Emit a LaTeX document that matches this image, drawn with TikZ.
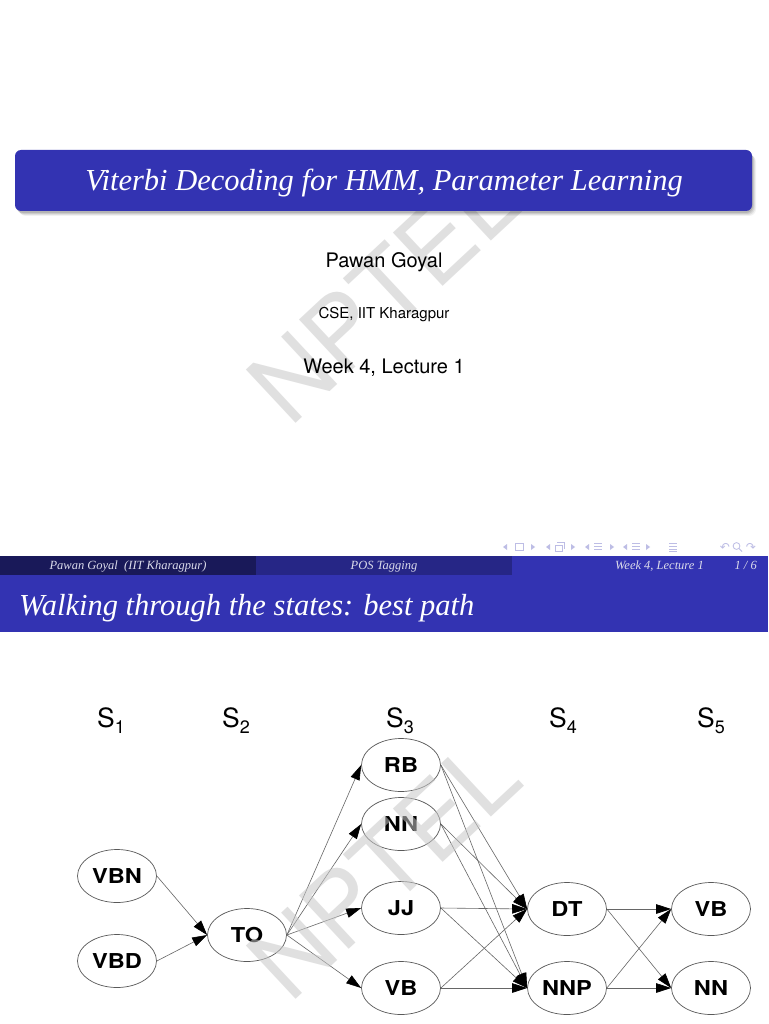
\documentclass[tikz,border=0pt]{standalone}
\usepackage{fontspec}
\setmainfont{Liberation Serif}
\setsansfont{TeX Gyre Heros}
\newfontfamily\dejavu{DejaVu Sans}
\usetikzlibrary{arrows.meta,shapes.geometric}
\definecolor{struct}{rgb}{0.2,0.2,0.7}
\definecolor{navlite}{rgb}{0.74,0.74,0.90}
\definecolor{foottxt}{rgb}{0.86,0.86,0.92}
\newcommand\stlab[1]{\scalebox{1.15}[1]{#1}}
\newcommand\slabtext[1]{S\raisebox{-6pt}{\fontsize{18}{18}\selectfont #1}}
\begin{document}
\begin{tikzpicture}[x=1pt,y=-1pt,
  st/.style={ellipse,draw=black!65,line width=0.7pt,minimum width=79pt,minimum height=53pt,inner sep=0pt,
    font=\sffamily\bfseries\fontsize{20.5}{20.5}\selectfont},
  ed/.style={draw=black!60,line width=0.6pt,-{Triangle[length=15pt,width=9.5pt,color=black]}},
  slab/.style={font=\sffamily\fontsize{26.5}{26.5}\selectfont,anchor=base west,inner sep=0pt},
  foot/.style={font=\itshape\fontsize{12.5}{12.5}\selectfont,text=foottxt,inner sep=0pt,anchor=base},
  wm/.style={font=\sffamily\fontsize{100}{100}\selectfont,text=black!22,opacity=0.55,rotate=43},
  nav/.style={fill=navlite,draw=none},
  navl/.style={draw=navlite,line width=0.8pt}
]
\useasboundingbox (0,0) rectangle (768,1024);
\fill[white] (0,0) rectangle (768,1024);

% ---------- slide 1 ----------
\node[wm] (wm1) at (383,292) {NPTEL};
% title box shadow
\foreach \i/\o in {4/0.05,3/0.07,2/0.09,1/0.11}{
  \fill[black,opacity=\o,rounded corners=7pt] (15+\i,150+\i+1) rectangle (752+\i,211+\i+1);
}
\fill[struct,rounded corners=6pt] (15,150) rectangle (752,211);
\node[font=\itshape\fontsize{30.5}{30.5}\selectfont,text=white,anchor=base] (title) at (384,191) {Viterbi Decoding for HMM, Parameter Learning};
\node[font=\sffamily\fontsize{20}{20}\selectfont,anchor=base] (author) at (384,267) {Pawan Goyal};
\node[font=\sffamily\fontsize{15}{15}\selectfont,anchor=base] (inst) at (384,318) {CSE, IIT Kharagpur};
\node[font=\sffamily\fontsize{20}{20}\selectfont,anchor=base] (date) at (384,373) {Week 4, Lecture 1};

% navigation symbols
\fill[nav] (507,544) -- (503,547) -- (507,550) -- cycle;
\draw[navl] (515,543.5) rectangle (523,550.5);
\fill[nav] (531,544) -- (535,547) -- (531,550) -- cycle;
\fill[nav] (550,544) -- (546,547) -- (550,550) -- cycle;
\draw[navl] (555,545) rectangle (562,551);
\draw[navl] (557,542.5) -- (564,542.5) -- (564,548.5);
\fill[nav] (571,544) -- (575,547) -- (571,550) -- cycle;
\fill[nav] (589,544) -- (585,547) -- (589,550) -- cycle;
\foreach \yy in {543.5,546.5,549.5}{\draw[navl] (594,\yy) -- (602,\yy);}
\fill[nav] (610,544) -- (614,547) -- (610,550) -- cycle;
\fill[nav] (627,544) -- (623,547) -- (627,550) -- cycle;
\foreach \yy in {543.5,546.5,549.5}{\draw[navl] (632,\yy) -- (640,\yy);}
\fill[nav] (646,544) -- (650,547) -- (646,550) -- cycle;
\foreach \yy in {543,546,549,551.5}{\draw[navl] (669,\yy) -- (677,\yy);}
\node[font=\dejavu\fontsize{12}{12}\selectfont,text=navlite,inner sep=0pt] (undo) at (725,547) {↶};
\draw[navl] (736.5,546) circle (3.4pt);
\draw[navl] (739,548.5) -- (742,551.5);
\node[font=\dejavu\fontsize{12}{12}\selectfont,text=navlite,inner sep=0pt] (redo) at (751,547) {↷};

% footline
\fill[struct!50!black] (0,556) rectangle (256,575);
\fill[struct!75!black] (256,556) rectangle (512,575);
\fill[struct] (512,556) rectangle (768,575);
\node[foot] (fauthor) at (128,569) {Pawan Goyal\ \ (IIT Kharagpur)};
\node[foot] (ftitle) at (384,569) {POS Tagging};
\node[foot,anchor=base east] (fdate) at (704,569) {Week 4, Lecture 1};
\node[foot,anchor=base east] (fpage) at (757,569) {1 / 6};

% ---------- slide 2 ----------
\fill[struct] (0,575) rectangle (768,632);
\node[font=\itshape\fontsize{30.5}{30.5}\selectfont,text=white,anchor=base west,inner sep=0pt] (ftitle2) at (19,615) {Walking through the states: best path};

% stage labels
\node[slab] (s1) at (97,727) {\slabtext{1}};
\node[slab] (s2) at (222,727) {\slabtext{2}};
\node[slab] (s3) at (386,727) {\slabtext{3}};
\node[slab] (s4) at (549,727) {\slabtext{4}};
\node[slab] (s5) at (697,727) {\slabtext{5}};

% states
\node[st] (vbn) at (117,876) {\stlab{VBN}};
\node[st] (vbd) at (117,961) {\stlab{VBD}};
\node[st] (to)  at (247,935) {\stlab{TO}};
\node[st] (rb)  at (401,765) {\stlab{RB}};
\node[st] (nn3) at (401,824) {\stlab{NN}};
\node[st] (jj)  at (401,908) {\stlab{JJ}};
\node[st] (vb3) at (401,988) {\stlab{VB}};
\node[st] (dt)  at (567,909) {\stlab{DT}};
\node[st] (nnp) at (567,988) {\stlab{NNP}};
\node[st] (vb5) at (711,909) {\stlab{VB}};
\node[st] (nn5) at (711,988) {\stlab{NN}};

% transitions
\draw[ed] (vbn.east) -- (to.west);
\draw[ed] (vbd.east) -- (to.west);
\foreach \t in {rb,nn3,jj,vb3}{\draw[ed] (to.east) -- (\t.west);}
\foreach \s in {rb,nn3,jj,vb3}{
  \draw[ed] (\s.east) -- (dt.west);
  \draw[ed] (\s.east) -- (nnp.west);
}
\foreach \s in {dt,nnp}{
  \draw[ed] (\s.east) -- (vb5.west);
  \draw[ed] (\s.east) -- (nn5.west);
}

\node[wm] (wm2) at (383,868) {NPTEL};
\end{tikzpicture}
\end{document}
